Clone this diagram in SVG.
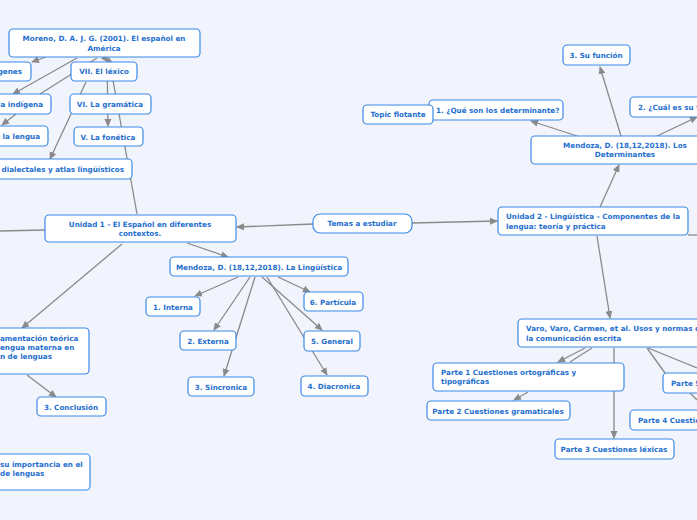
<svg xmlns="http://www.w3.org/2000/svg" width="697" height="520" viewBox="0 0 697 520">
<style>
.n{fill:#fff;stroke:#3b8ae6;stroke-width:1.2}
.t{font-family:Verdana,"DejaVu Sans",sans-serif;font-size:7.2px;font-weight:bold;fill:#1f6fcf}
.c{text-anchor:middle}
#conn path{fill:none;stroke:#8a8a8a;stroke-width:1.3}
</style>
<defs><marker id="a" markerWidth="8" markerHeight="8" refX="7" refY="4" orient="auto" markerUnits="userSpaceOnUse"><path d="M0,0.5 L8,4 L0,7.5z" fill="#8a8a8a"/></marker></defs>
<rect width="697" height="520" fill="#f1f4fd"/>
<g id="conn">
<path d="M313,224 L237,227" marker-end="url(#a)"/>
<path d="M412,223 L497,221" marker-end="url(#a)"/>
<path d="M45,230 L0,231"/>
<path d="M688,235 L697,235"/>
<path d="M137,214 L109,58" marker-end="url(#a)"/>
<path d="M46,57 L32,62" marker-end="url(#a)"/>
<path d="M77,58 L13,94" marker-end="url(#a)"/>
<path d="M97,58 L40,94"/>
<path d="M105,58 L108,62" marker-end="url(#a)"/>
<path d="M107,58 L108,126" marker-end="url(#a)"/>
<path d="M86,82 L50,159" marker-end="url(#a)"/>
<path d="M16,114 L2,125" marker-end="url(#a)"/>
<path d="M187,243 L228,257" marker-end="url(#a)"/>
<path d="M122,244 L22,328" marker-end="url(#a)"/>
<path d="M27,375 L56,397" marker-end="url(#a)"/>
<path d="M238,277 L195,296" marker-end="url(#a)"/>
<path d="M250,277 L214,330" marker-end="url(#a)"/>
<path d="M255,277 L224,376" marker-end="url(#a)"/>
<path d="M262,277 L322,330" marker-end="url(#a)"/>
<path d="M267,277 L327,375" marker-end="url(#a)"/>
<path d="M278,277 L310,292" marker-end="url(#a)"/>
<path d="M600,207 L619,165" marker-end="url(#a)"/>
<path d="M597,236 L610,318" marker-end="url(#a)"/>
<path d="M621,136 L600,67" marker-end="url(#a)"/>
<path d="M577,136 L531,121" marker-end="url(#a)"/>
<path d="M657,136 L697,117" marker-end="url(#a)"/>
<path d="M585,348 L558,362" marker-end="url(#a)"/>
<path d="M592,348 L570,362"/>
<path d="M528,392 L514,400" marker-end="url(#a)"/>
<path d="M614,348 L614,438" marker-end="url(#a)"/>
<path d="M647,348 L665,373"/>
<path d="M648,348 L697,368"/>
<path d="M690,393 L697,400"/>
</g>
<g id="moreno"><rect class="n" x="9" y="29" width="191" height="28" rx="4"/><text class="t c" x="104" y="41">Moreno, D. A. J. G. (2001). El español en</text><text class="t c" x="104" y="51">América</text></g>
<g id="origenes"><rect class="n" x="-40" y="62" width="71" height="19" rx="4"/><text class="t" x="22" y="74" text-anchor="end">genes</text></g>
<g id="lexico"><rect class="n" x="71" y="62" width="66" height="19" rx="4"/><text class="t c" x="104" y="74">VII. El léxico</text></g>
<g id="indigena"><rect class="n" x="-40" y="94" width="91" height="20" rx="4"/><text class="t" x="43" y="107" text-anchor="end">la indígena</text></g>
<g id="gramatica"><rect class="n" x="70" y="94" width="81" height="20" rx="4"/><text class="t c" x="110" y="107">VI. La gramática</text></g>
<g id="lengua"><rect class="n" x="-40" y="126" width="88" height="20" rx="4"/><text class="t" x="40" y="139" text-anchor="end">e la lengua</text></g>
<g id="fonetica"><rect class="n" x="74" y="127" width="69" height="19" rx="4"/><text class="t c" x="108" y="140">V. La fonética</text></g>
<g id="dialectales"><rect class="n" x="-40" y="159" width="172" height="20" rx="4"/><text class="t" x="124" y="172" text-anchor="end">s dialectales y atlas lingüísticos</text></g>
<g id="unidad1"><rect class="n" x="45" y="215" width="191" height="27" rx="4"/><text class="t c" x="140" y="227">Unidad 1 - El Español en diferentes</text><text class="t c" x="140" y="236">contextos.</text></g>
<g id="temas"><rect class="n" x="313" y="214" width="99" height="19" rx="7"/><text class="t c" x="362" y="226">Temas a estudiar</text></g>
<g id="unidad2"><rect class="n" x="498" y="207" width="190" height="28" rx="4"/><text class="t" x="506" y="219">Unidad 2 - Lingüística - Componentes de la</text><text class="t" x="506" y="229">lengua: teoría y práctica</text></g>
<g id="mdet"><rect class="n" x="531" y="136" width="180" height="28" rx="4"/><text class="t c" x="625" y="148">Mendoza, D. (18,12,2018). Los</text><text class="t c" x="625" y="157">Determinantes</text></g>
<g id="funcion"><rect class="n" x="563" y="45" width="67" height="20" rx="4"/><text class="t c" x="596" y="58">3. Su función</text></g>
<g id="que"><rect class="n" x="429" y="100" width="134" height="20" rx="4"/><text class="t" x="436" y="113">1. ¿Qué son los determinante?</text></g>
<g id="topic"><rect class="n" x="363" y="105" width="70" height="19" rx="4"/><text class="t c" x="398" y="117">Topic flotante</text></g>
<g id="cual"><rect class="n" x="630" y="97" width="90" height="20" rx="4"/><text class="t" x="638" y="110">2. ¿Cuál es su f</text></g>
<g id="mling"><rect class="n" x="170" y="257" width="178" height="19" rx="4"/><text class="t c" x="259" y="270">Mendoza, D. (18,12,2018). La Lingüística</text></g>
<g id="interna"><rect class="n" x="146" y="297" width="54" height="19" rx="4"/><text class="t c" x="173" y="310">1. Interna</text></g>
<g id="particula"><rect class="n" x="304" y="292" width="59" height="19" rx="4"/><text class="t c" x="333" y="305">6. Partícula</text></g>
<g id="externa"><rect class="n" x="180" y="331" width="56" height="19" rx="4"/><text class="t c" x="208" y="344">2. Externa</text></g>
<g id="general"><rect class="n" x="304" y="331" width="56" height="20" rx="4"/><text class="t c" x="332" y="344">5. General</text></g>
<g id="sincronica"><rect class="n" x="188" y="377" width="66" height="19" rx="4"/><text class="t c" x="221" y="390">3. Sincronica</text></g>
<g id="diacronica"><rect class="n" x="301" y="376" width="67" height="20" rx="4"/><text class="t c" x="334" y="389">4. Diacronica</text></g>
<g id="fundamentacion"><rect class="n" x="-40" y="328" width="129" height="46" rx="4"/><text class="t" x="0" y="341">amentación teórica</text><text class="t" x="0" y="350">engua materna en</text><text class="t" x="0" y="359">n de lenguas</text></g>
<g id="conclusion"><rect class="n" x="37" y="397" width="69" height="19" rx="4"/><text class="t c" x="71" y="410">3. Conclusión</text></g>
<g id="importancia"><rect class="n" x="-40" y="454" width="130" height="36" rx="4"/><text class="t" x="0" y="467">su importancia en el</text><text class="t" x="0" y="476">de lenguas</text></g>
<g id="varo"><rect class="n" x="518" y="319" width="190" height="28" rx="4"/><text class="t" x="526" y="331">Varo, Varo, Carmen, et al. Usos y normas de</text><text class="t" x="526" y="341">la comunicación escrita</text></g>
<g id="p1"><rect class="n" x="433" y="363" width="191" height="28" rx="4"/><text class="t" x="441" y="375">Parte 1 Cuestiones ortográficas y</text><text class="t" x="441" y="384">tipográficas</text></g>
<g id="p2"><rect class="n" x="427" y="401" width="143" height="19" rx="4"/><text class="t c" x="498" y="414">Parte 2 Cuestiones gramaticales</text></g>
<g id="p3"><rect class="n" x="555" y="439" width="119" height="20" rx="4"/><text class="t c" x="614" y="452">Parte 3 Cuestiones léxicas</text></g>
<g id="p4"><rect class="n" x="630" y="410" width="100" height="20" rx="4"/><text class="t" x="638" y="423">Parte 4 Cuestio</text></g>
<g id="p5"><rect class="n" x="663" y="373" width="60" height="20" rx="4"/><text class="t" x="671" y="386">Parte 5</text></g>
</svg>
